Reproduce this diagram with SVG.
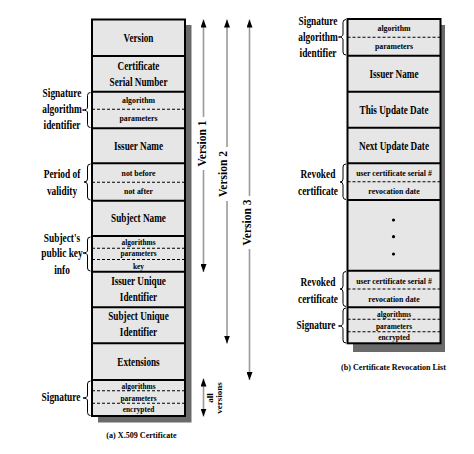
<svg xmlns="http://www.w3.org/2000/svg" width="474" height="454" viewBox="0 0 474 454">
<style>
.bg{fill:#fff}
.shadow{fill:#6a6a6a}
.box{fill:#e6e6e6;stroke:#000;stroke-width:2}
.div{stroke:#000;stroke-width:2;fill:none}
.dash{stroke:#000;stroke-width:1.1;stroke-dasharray:3 2;fill:none}
.brace{fill:none;stroke:#000;stroke-width:1}
.arr{stroke:#9a9a9a;stroke-width:1.6;fill:none}
text{font-family:"Liberation Serif","Times New Roman",serif;font-weight:bold;fill:#000;text-anchor:middle}
.big{font-size:11.5px}
.sm{font-size:9px}
.xs{font-size:8.5px}
.side{font-size:12.5px}
.ver{font-size:11.5px}
.cap{font-size:9px}
</style>
<defs>
<marker id="ah" viewBox="0 0 8 6" refX="8" refY="3" markerWidth="8" markerHeight="6" markerUnits="userSpaceOnUse" orient="auto-start-reverse">
<path d="M0,0 L8,3 L0,6 z" fill="#000"/>
</marker>
</defs>
<rect class="bg" x="0" y="0" width="474" height="454"/>

<!-- Left column: X.509 certificate -->
<g id="x509">
<rect class="shadow" x="98" y="25" width="93.5" height="397.5"/>
<rect class="box" x="92" y="19.5" width="93" height="396.5"/>
<g id="x509-version"><text class="big" transform="translate(138.5,41.5) scale(0.8,1)">Version</text></g>
<line class="div" x1="92" y1="56" x2="185" y2="56"/>
<g id="x509-serial"><text class="big" transform="translate(138.5,69.5) scale(0.8,1)">Certificate</text><text class="big" transform="translate(138.5,85.5) scale(0.8,1)">Serial Number</text></g>
<line class="div" x1="92" y1="91.7" x2="185" y2="91.7"/>
<g id="x509-sigalg"><text class="sm" transform="translate(138.5,103) scale(0.87,1)">algorithm</text><line class="dash" x1="92" y1="109.3" x2="185" y2="109.3"/><text class="sm" transform="translate(138.5,121) scale(0.87,1)">parameters</text></g>
<line class="div" x1="92" y1="128.3" x2="185" y2="128.3"/>
<g id="x509-issuer"><text class="big" transform="translate(138.5,149.8) scale(0.8,1)">Issuer Name</text></g>
<line class="div" x1="92" y1="163.3" x2="185" y2="163.3"/>
<g id="x509-validity"><text class="sm" transform="translate(138.5,176) scale(0.87,1)">not before</text><line class="dash" x1="92" y1="182.3" x2="185" y2="182.3"/><text class="sm" transform="translate(138.5,193.5) scale(0.87,1)">not after</text></g>
<line class="div" x1="92" y1="200.7" x2="185" y2="200.7"/>
<g id="x509-subject"><text class="big" transform="translate(138.5,222.3) scale(0.8,1)">Subject Name</text></g>
<line class="div" x1="92" y1="236" x2="185" y2="236"/>
<g id="x509-pubkey"><text class="xs" transform="translate(138.5,244.5) scale(0.87,1)">algorithms</text><line class="dash" x1="92" y1="248.3" x2="185" y2="248.3"/><text class="xs" transform="translate(138.5,256.3) scale(0.87,1)">parameters</text><line class="dash" x1="92" y1="259.5" x2="185" y2="259.5"/><text class="xs" transform="translate(138.5,268.5) scale(0.87,1)">key</text></g>
<line class="div" x1="92" y1="271.7" x2="185" y2="271.7"/>
<g id="x509-issuerid"><text class="big" transform="translate(138.5,285.3) scale(0.8,1)">Issuer Unique</text><text class="big" transform="translate(138.5,301.3) scale(0.8,1)">Identifier</text></g>
<line class="div" x1="92" y1="307.3" x2="185" y2="307.3"/>
<g id="x509-subjectid"><text class="big" transform="translate(138.5,320) scale(0.8,1)">Subject Unique</text><text class="big" transform="translate(138.5,336) scale(0.8,1)">Identifier</text></g>
<line class="div" x1="92" y1="343.3" x2="185" y2="343.3"/>
<g id="x509-ext"><text class="big" transform="translate(138.5,365.8) scale(0.8,1)">Extensions</text></g>
<line class="div" x1="92" y1="380" x2="185" y2="380"/>
<g id="x509-sig"><text class="xs" transform="translate(138.5,388.5) scale(0.87,1)">algorithms</text><line class="dash" x1="92" y1="390.8" x2="185" y2="390.8"/><text class="xs" transform="translate(138.5,401) scale(0.87,1)">parameters</text><line class="dash" x1="92" y1="403.3" x2="185" y2="403.3"/><text class="xs" transform="translate(138.5,412) scale(0.87,1)">encrypted</text></g>
<text class="cap" transform="translate(141.5,437.5) scale(0.9,1)">(a) X.509 Certificate</text>
</g>

<!-- Left side labels -->
<g id="lbl-sigalg-left"><text class="side" transform="translate(62,97.3) scale(0.75,1)">Signature</text><text class="side" transform="translate(62,113.3) scale(0.75,1)">algorithm</text><text class="side" transform="translate(62,129.3) scale(0.75,1)">identifier</text>
<path class="brace" d="M90.5,92.5 Q87.5,92.5 87.5,95.5 L87.5,107 Q87.5,110 82.5,110 Q87.5,110 87.5,113 L87.5,124.5 Q87.5,127.5 90.5,127.5"/></g>
<g id="lbl-validity"><text class="side" transform="translate(62,177.7) scale(0.75,1)">Period of</text><text class="side" transform="translate(62,194.7) scale(0.75,1)">validity</text>
<path class="brace" d="M90.5,164 Q87.5,164 87.5,167 L87.5,179 Q87.5,182 84,182 Q87.5,182 87.5,185 L87.5,197 Q87.5,200 90.5,200"/></g>
<g id="lbl-pubkey"><text class="side" transform="translate(62,241.5) scale(0.75,1)">Subject's</text><text class="side" transform="translate(62,257) scale(0.75,1)">public key</text><text class="side" transform="translate(62,273.5) scale(0.75,1)">info</text>
<path class="brace" d="M90.5,237 Q87.5,237 87.5,240 L87.5,250 Q87.5,253 83,253 Q87.5,253 87.5,256 L87.5,268 Q87.5,271 90.5,271"/></g>
<g id="lbl-sig-left"><text class="side" transform="translate(61,401) scale(0.75,1)">Signature</text>
<path class="brace" d="M90.5,381 Q87.5,381 87.5,384 L87.5,395 Q87.5,398 83,398 Q87.5,398 87.5,401 L87.5,412.5 Q87.5,415.5 90.5,415.5"/></g>

<!-- Version arrows -->
<g id="connectors">
<line class="arr" x1="203.5" y1="117" x2="203.5" y2="19.5" marker-end="url(#ah)"/>
<line class="arr" x1="203.5" y1="170" x2="203.5" y2="272" marker-end="url(#ah)"/>
<line class="arr" x1="227" y1="147" x2="227" y2="19.5" marker-end="url(#ah)"/>
<line class="arr" x1="227" y1="201" x2="227" y2="343.5" marker-end="url(#ah)"/>
<line class="arr" x1="249.5" y1="196" x2="249.5" y2="19.5" marker-end="url(#ah)"/>
<line class="arr" x1="249.5" y1="249" x2="249.5" y2="380" marker-end="url(#ah)"/>
<line class="arr" x1="203.5" y1="378.5" x2="203.5" y2="416.5" marker-start="url(#ah)" marker-end="url(#ah)"/>
</g>
<g id="version-labels">
<text class="ver" transform="translate(206,143.5) rotate(-90)">Version 1</text>
<text class="ver" transform="translate(226.5,174) rotate(-90)">Version 2</text>
<text class="ver" transform="translate(250.5,222.5) rotate(-90)">Version 3</text>
<text class="sm" transform="translate(213,398) rotate(-90)">all</text>
<text class="sm" transform="translate(222,398) rotate(-90)">versions</text>
</g>

<!-- Right column: CRL -->
<g id="crl">
<rect class="shadow" x="353" y="25" width="92" height="327"/>
<rect class="box" x="347.5" y="19" width="93" height="324.3"/>
<g id="crl-sigalg"><text class="sm" transform="translate(394,30.5) scale(0.87,1)">algorithm</text><line class="dash" x1="347.5" y1="37.3" x2="440.5" y2="37.3"/><text class="sm" transform="translate(394,48.5) scale(0.87,1)">parameters</text></g>
<line class="div" x1="347.5" y1="55.7" x2="440.5" y2="55.7"/>
<g id="crl-issuer"><text class="big" transform="translate(394,78) scale(0.8,1)">Issuer Name</text></g>
<line class="div" x1="347.5" y1="91.7" x2="440.5" y2="91.7"/>
<g id="crl-this"><text class="big" transform="translate(394,114) scale(0.8,1)">This Update Date</text></g>
<line class="div" x1="347.5" y1="127.7" x2="440.5" y2="127.7"/>
<g id="crl-next"><text class="big" transform="translate(394,150) scale(0.8,1)">Next Update Date</text></g>
<line class="div" x1="347.5" y1="163.3" x2="440.5" y2="163.3"/>
<g id="crl-revoked1"><text class="sm" transform="translate(394,175.5) scale(0.87,1)">user certificate serial #</text><line class="dash" x1="347.5" y1="181.7" x2="440.5" y2="181.7"/><text class="sm" transform="translate(394,193.5) scale(0.87,1)">revocation date</text></g>
<line class="div" x1="347.5" y1="200" x2="440.5" y2="200"/>
<g id="crl-dots"><circle cx="393.5" cy="220" r="1.6"/><circle cx="393.5" cy="236.7" r="1.6"/><circle cx="393.5" cy="254" r="1.6"/></g>
<line class="div" x1="347.5" y1="270.7" x2="440.5" y2="270.7"/>
<g id="crl-revoked2"><text class="sm" transform="translate(394,283.5) scale(0.87,1)">user certificate serial #</text><line class="dash" x1="347.5" y1="289" x2="440.5" y2="289"/><text class="sm" transform="translate(394,301.7) scale(0.87,1)">revocation date</text></g>
<line class="div" x1="347.5" y1="307.3" x2="440.5" y2="307.3"/>
<g id="crl-sig"><text class="xs" transform="translate(394,316.5) scale(0.87,1)">algorithms</text><line class="dash" x1="347.5" y1="319.3" x2="440.5" y2="319.3"/><text class="xs" transform="translate(394,328.5) scale(0.87,1)">parameters</text><line class="dash" x1="347.5" y1="331.7" x2="440.5" y2="331.7"/><text class="xs" transform="translate(394,339.8) scale(0.87,1)">encrypted</text></g>
<text class="cap" transform="translate(393.5,370) scale(0.9,1)">(b) Certificate Revocation List</text>
</g>

<!-- Right side labels -->
<g id="lbl-sigalg-right"><text class="side" transform="translate(318,24.5) scale(0.75,1)">Signature</text><text class="side" transform="translate(318,40.5) scale(0.75,1)">algorithm</text><text class="side" transform="translate(318,56.7) scale(0.75,1)">identifier</text>
<path class="brace" d="M346,19.5 Q343,19.5 343,22.5 L343,34 Q343,37 338.5,37 Q343,37 343,40 L343,52 Q343,55 346,55"/></g>
<g id="lbl-revoked1"><text class="side" transform="translate(318,178.3) scale(0.75,1)">Revoked</text><text class="side" transform="translate(318,194.5) scale(0.75,1)">certificate</text>
<path class="brace" d="M346,164 Q343,164 343,167 L343,179 Q343,182 340,182 Q343,182 343,185 L343,196.5 Q343,199.5 346,199.5"/></g>
<g id="lbl-revoked2"><text class="side" transform="translate(318,285.7) scale(0.75,1)">Revoked</text><text class="side" transform="translate(318,302.7) scale(0.75,1)">certificate</text>
<path class="brace" d="M346,271.5 Q343,271.5 343,274.5 L343,286 Q343,289 340,289 Q343,289 343,292 L343,303.5 Q343,306.5 346,306.5"/></g>
<g id="lbl-sig-right"><text class="side" transform="translate(316,329) scale(0.75,1)">Signature</text>
<path class="brace" d="M346,308 Q343,308 343,311 L343,323 Q343,326 338.5,326 Q343,326 343,329 L343,340 Q343,343 346,343"/></g>
</svg>
